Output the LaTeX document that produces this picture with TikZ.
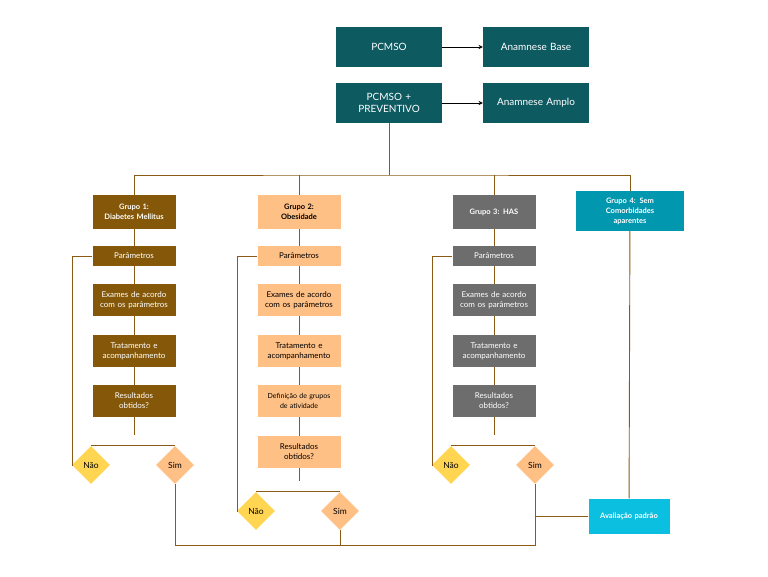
\documentclass[tikz,border=0pt]{standalone}
\usepackage{fontspec}
\setmainfont{Lato}
\usetikzlibrary{shapes.geometric}
\definecolor{teal}{HTML}{0E5A61}
\definecolor{brownbox}{HTML}{845808}
\definecolor{peach}{HTML}{FFC086}
\definecolor{greybox}{HTML}{6D6D6D}
\definecolor{cyanbox}{HTML}{0097AF}
\definecolor{cyanlt}{HTML}{0BBFE0}
\definecolor{gold}{HTML}{FFD552}
\definecolor{wire}{HTML}{8B5A14}
\begin{document}
\begin{tikzpicture}[x=1pt,y=-1pt,
    box/.style={rectangle, inner sep=1pt, align=center, text width=#1},
    topbox/.style={box=102pt, minimum width=106pt, minimum height=40pt, fill=teal, text=white, font=\fontsize{10}{12}\selectfont},
    stage/.style={box=80pt, minimum width=83pt, minimum height=32pt, font=\fontsize{8}{10}\selectfont},
    head/.style={stage, minimum height=34pt, font=\bfseries\fontsize{7.5}{10}\selectfont},
    par/.style={stage, minimum height=20pt},
    choice/.style={diamond, minimum width=38pt, minimum height=38pt, inner sep=0pt, font=\fontsize{8.5}{10}\selectfont},
    wire/.style={draw=wire, line width=0.9pt}]
  \useasboundingbox (0,0) rectangle (768,576);
  \node[topbox] (pcmso) at (389,47) {PCMSO};
  \node[topbox] (base) at (536,47) {Anamnese Base};
  \node[topbox] (prev) at (389,103) {PCMSO +\\PREVENTIVO};
  \node[topbox] (amplo) at (536,103) {Anamnese Amplo};
  \draw[-stealth, line width=0.9pt] (pcmso) -- (base);
  \draw[-stealth, line width=0.9pt] (prev) -- (amplo);
  % groups 1 and 3
  \foreach \g/\x/\fc/\tc/\title in {a/134/brownbox/white/{Grupo 1:\\Diabetes Mellitus}, c/494/greybox/white/{Grupo 3: HAS}} {
    \node[head, fill=\fc, text=\tc] (\g head) at (\x,212) {\title};
    \node[par, fill=\fc, text=white] (\g par) at (\x,256) {Parâmetros};
    \node[stage, fill=\fc, text=white] (\g exam) at (\x,300) {Exames de acordo\\com os parâmetros};
    \node[stage, fill=\fc, text=white] (\g trat) at (\x,351) {Tratamento e\\acompanhamento};
    \node[stage, fill=\fc, text=white] (\g res) at (\x,401) {Resultados\\obtidos?};
    \node[choice, fill=gold] (\g nao) at (\x-43,465) {Não};
    \node[choice, fill=peach] (\g sim) at (\x+41,465) {Sim};
    \draw[wire] (\g head) -- (\g par) -- (\g exam) -- (\g trat) -- (\g res) -- (\x,435);
    \draw[wire] (\g nao.north) |- (\g sim.north);
    \draw[wire] (\g par.west) -- ++(-20,0) |- (\g nao.west);
  }
  % group 2
  \node[head, fill=peach] (bhead) at (299,212) {Grupo 2:\\Obesidade};
  \node[par, fill=peach] (bpar) at (299,256) {Parâmetros};
  \node[stage, fill=peach] (bexam) at (299,300) {Exames de acordo\\com os parâmetros};
  \node[stage, fill=peach] (btrat) at (299,351) {Tratamento e\\acompanhamento};
  \node[stage, fill=peach, font=\fontsize{7}{10}\selectfont] (bdef) at (299,401) {Definição de grupos\\de atividade};
  \node[stage, fill=peach] (bres) at (299,452) {Resultados\\obtidos?};
  \node[choice, fill=gold] (bnao) at (256,511) {Não};
  \node[choice, fill=peach] (bsim) at (340,511) {Sim};
  \draw[wire] (bhead) -- (bpar) -- (bexam) -- (btrat) -- (bdef) -- (bres) -- (299,481);
  \draw[wire] (bnao.north) |- (bsim.north);
  \draw[wire] (bpar.west) -- ++(-20,0) |- (bnao.west);
  % group 4
  \node[head, box=104pt, minimum width=108pt, minimum height=40pt, fill=cyanbox, text=white] (dhead) at (630,211) {Grupo 4: Sem\\Comorbidades\\aparentes};
  \node[head, box=78pt, minimum width=81pt, minimum height=35pt, fill=cyanlt, text=white] (padrao) at (629,516) {Avaliação padrão};
  \draw[wire] (dhead) -- (padrao);
  % tree from the top
  \coordinate (split) at (389,175);
  \draw[wire] (prev) -- (split);
  \draw[wire] (ahead.north) |- (split) -| (dhead.north);
  \draw[wire] (bhead.north) -- (bhead.north |- split);
  \draw[wire] (chead.north) -- (chead.north |- split);
  % back to the standard path
  \coordinate (floor) at (0,545);
  \draw[wire] (asim.south) |- (csim.south |- floor) -- (csim.south);
  \draw[wire] (bsim.south) -- (bsim.south |- floor);
  \draw[wire] (padrao.west) -- (csim.south |- padrao.west);
\end{tikzpicture}
\end{document}
